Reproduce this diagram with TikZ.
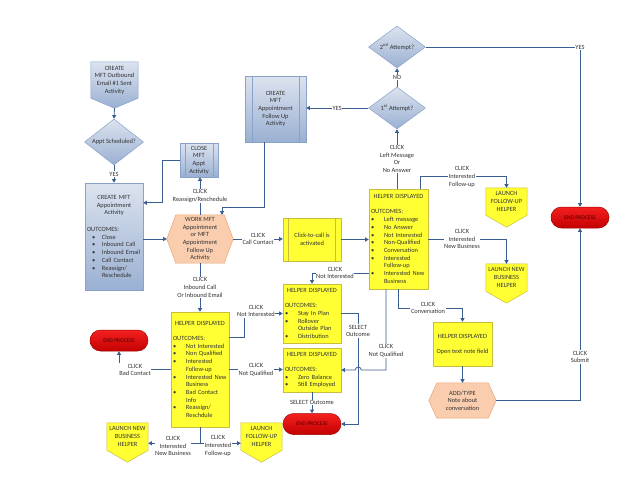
\documentclass[tikz,border=0pt]{standalone}
\usepackage{fontspec}
\setmainfont{Carlito}
\usetikzlibrary{shapes.geometric,arrows.meta,backgrounds,calc}
\setlength{\parindent}{0pt}
\definecolor{bluetop}{HTML}{DCE3EF}
\definecolor{bluebot}{HTML}{9AB0D2}
\definecolor{blueln}{HTML}{8AA2C8}
\definecolor{ylw}{HTML}{FFFF33}
\definecolor{ylwln}{HTML}{C8BE3C}
\definecolor{peach}{HTML}{F9CDAD}
\definecolor{peachln}{HTML}{E9A678}
\definecolor{redtop}{HTML}{F52020}
\definecolor{redbot}{HTML}{C30000}
\definecolor{redln}{HTML}{A00000}
\definecolor{lnblue}{HTML}{3B5E91}
\definecolor{txt}{HTML}{333333}
\newcommand\bitem[1]{\makebox[13pt][l]{\textbullet}#1}
\newcommand\bcont[1]{\hspace*{13pt}#1}
\newcommand\bitemw[1]{\makebox[15pt][l]{\hspace{5pt}\textbullet}#1}
\newcommand\bcontw[1]{\hspace*{15pt}#1}
\newcommand\ctrline[1]{\makebox[\linewidth][c]{#1}}
\begin{document}
\begin{tikzpicture}[x=1pt,y=-1pt,
  every node/.style={font=\fontsize{6.4}{7.7}\selectfont, text=txt, inner sep=0pt},
  bluefill/.style={draw=blueln, line width=0.5pt, top color=bluetop, bottom color=bluebot},
  yfill/.style={draw=ylwln, line width=0.5pt, fill=ylw},
  pfill/.style={draw=peachln, line width=0.5pt, fill=peach},
  predef/.style 2 args={path picture={\draw[line width=0.5pt,#1]
     ([xshift=#2]path picture bounding box.north west) -- ([xshift=#2]path picture bounding box.south west)
     ([xshift=-#2]path picture bounding box.north east) -- ([xshift=-#2]path picture bounding box.south east);}},
  endp/.style={draw=redln, line width=0.5pt, top color=redtop, bottom color=redbot, rounded corners=10.5pt,
     minimum width=58pt, minimum height=21pt, text=red!30!black, font=\fontsize{5.6}{7}\selectfont},
  lbl/.style={fill=white, align=center, inner sep=0.6pt},
  conn/.style={draw=lnblue, line width=0.8pt},
  arr/.style={conn, -{Triangle[length=3.6pt,width=4pt]}},
  listbox/.style={text width=#1, inner xsep=2pt, align=left}
]
\useasboundingbox (0,0) rectangle (638,493);

% ---------- nodes ----------
\node[minimum width=47pt, minimum height=36pt, align=center] (n1) at (114.5,80) {CREATE\\MFT Outbound\\Email \#1 Sent\\Activity};
\node[diamond, aspect=1.3, bluefill, minimum width=59pt, minimum height=46pt] (d1) at (114,142) {Appt Scheduled?};
\node[bluefill, minimum width=58pt, minimum height=107pt, listbox=54pt] (b1) at (114,236.5)
 {\ctrline{CREATE MFT}\\\ctrline{Appointment}\\\ctrline{Activity}\\[9pt]OUTCOMES:\\\bitemw{Close}\\\bitemw{Inbound Call}\\\bitemw{Inbound Email}\\\bitemw{Call Contact}\\\bitemw{Reassign/}\\\bcontw{Reschedule}};
\node[bluefill, predef={blueln}{5pt}, minimum width=38pt, minimum height=34pt, align=center] (c1) at (199,160) {CLOSE\\MFT\\Appt\\Activity};
\node[minimum width=66pt, minimum height=48pt, align=center] (h0) at (200,239) {WORK MFT\\Appointment\\or MFT\\Appointment\\Follow Up\\Activity};
\node[bluefill, predef={blueln}{7pt}, minimum width=61pt, minimum height=66pt, align=center] (f1) at (275.5,109) {CREATE\\MFT\\Appointment\\Follow Up\\Activity};
\node[diamond, aspect=1.3, bluefill, minimum width=57pt, minimum height=42pt] (d2) at (397,108) {1\textsuperscript{st} Attempt?};
\node[diamond, aspect=1.3, bluefill, minimum width=57pt, minimum height=42pt] (d3) at (397,47) {2\textsuperscript{nd} Attempt?};
\node[endp] (eR) at (580,217.5) {END PROCESS};
\node[yfill, minimum width=59pt, minimum height=100pt, listbox=55pt] (hT) at (398.5,239)
 {\ctrline{HELPER DISPLAYED}\\[7.3pt]OUTCOMES:\\\bitem{Left message}\\\bitem{No Answer}\\\bitem{Not Interested}\\\bitem{Non-Qualified}\\\bitem{Conversation}\\\bitem{Interested}\\\bcont{Follow-up}\\\bitem{Interested New}\\\bcont{Business}};
\node[minimum width=41pt, minimum height=27pt, align=center] (lf1) at (506.5,201.5) {LAUNCH\\FOLLOW-UP\\HELPER};
\node[minimum width=41pt, minimum height=27pt, align=center] (lnb1) at (506.5,277.5) {LAUNCH NEW\\BUSINESS\\HELPER};
\node[yfill, predef={ylwln}{5.5pt}, minimum width=58pt, minimum height=43pt, align=center] (cc) at (312,239.5) {Click-to-call is\\activated};
\node[yfill, minimum width=58pt, minimum height=59pt, listbox=54pt] (hM1) at (312,313.5)
 {\ctrline{HELPER DISPLAYED}\\[7.3pt]OUTCOMES:\\\bitem{Stay In Plan}\\\bitem{Rollover}\\\bcont{Outside Plan}\\\bitem{Distribution}};
\node[yfill, minimum width=58pt, minimum height=44pt, listbox=54pt] (hM2) at (312,370)
 {\ctrline{HELPER DISPLAYED}\\[7.3pt]OUTCOMES:\\\bitem{Zero Balance}\\\bitem{Still Employed}};
\node[endp] (eM) at (312,424) {END PROCESS};
\node[yfill, minimum width=58pt, minimum height=115pt, listbox=54pt] (hL) at (200,369.5)
 {\ctrline{HELPER DISPLAYED}\\[7.3pt]OUTCOMES:\\\bitem{Not Interested}\\\bitem{Non Qualified}\\\bitem{Interested}\\\bcont{Follow-up}\\\bitem{Interested New}\\\bcont{Business}\\\bitem{Bad Contact}\\\bcont{Info}\\\bitem{Reassign/}\\\bcont{Reschdule}};
\node[endp] (eL) at (119,340.5) {END PROCESS};
\node[minimum width=41pt, minimum height=27pt, align=center] (lnb2) at (127.5,436.5) {LAUNCH NEW\\BUSINESS\\HELPER};
\node[minimum width=41pt, minimum height=27pt, align=center] (lf2) at (261.5,436.5) {LAUNCH\\FOLLOW-UP\\HELPER};
\node[yfill, minimum width=59pt, minimum height=44pt, align=center] (hO) at (462.5,344) {HELPER DISPLAYED\\[7.3pt]Open text note field};
\node[minimum width=67pt, minimum height=35pt, align=center] (hx) at (462.5,400.5) {ADD/TYPE\\Note about\\conversation};

% ---------- background shapes ----------
\begin{scope}[on background layer]
\fill[white] (0,0) rectangle (638,493);
\path[bluefill] (n1.north west) -- (n1.north east) -- (n1.south east) -- ([yshift=-10pt]n1.south) -- (n1.south west) -- cycle;
\foreach \p in {lf1,lnb1,lnb2,lf2}{
  \path[yfill] (\p.north west) -- (\p.north east) -- (\p.south east) -- ([yshift=-12pt]\p.south) -- (\p.south west) -- cycle;
}
\path[pfill] (h0.west) -- ([xshift=9pt]h0.north west) -- ([xshift=-9pt]h0.north east) -- (h0.east) -- ([xshift=-9pt]h0.south east) -- ([xshift=9pt]h0.south west) -- cycle;
\path[pfill] (hx.west) -- ([xshift=8pt]hx.north west) -- ([xshift=-8pt]hx.north east) -- (hx.east) -- ([xshift=-8pt]hx.south east) -- ([xshift=8pt]hx.south west) -- cycle;
\end{scope}

% ---------- connectors ----------
\draw[arr] ([yshift=-10pt]n1.south) -- (d1.north);
\draw[arr] (d1.south) -- node[lbl]{YES} (b1.north);
\draw[arr] (b1.east |- h0.west) -- (h0.west);
\draw[arr] (h0.north) -- node[lbl]{CLICK\\Reassign/Reschedule} (h0.north |- c1.south);
\draw[arr] (c1.west) -- ++(-17,0) |- ([yshift=-20pt]b1.north east);
\draw[arr] ([xshift=-11pt]f1.south) -- ++(0,65) -| ([xshift=22pt]h0.north);
\draw[arr] (d2.west) -- node[lbl]{YES} (d2.west -| f1.east);
\draw[arr] (d2.north) -- node[lbl]{NO} (d3.south);
\draw[arr] (d3.east) -| node[lbl, pos=0.5]{YES} (eR.north);
\draw[arr] (d2.south |- hT.north) -- node[lbl]{CLICK\\Left Message\\Or\\No Answer} (d2.south);
\draw[arr] ([xshift=21.5pt]hT.north) -- ++(0,-12) -| (lf1.north);
\node[lbl] (lb1) at (462,177) {CLICK\\Interested\\Follow-up};
\draw[arr] (hT.east) -| (lnb1.north);
\node[lbl] (lb2) at (462,239) {CLICK\\Interested\\New Business};
\draw[arr] (cc.east) -- (cc.east -| hT.west);
\draw[arr] (h0.east) -- node[lbl]{CLICK\\Call Contact} (h0.east -| cc.west);
\draw[arr] ([yshift=-34pt]hT.west) -| (hM1.north);
\node[lbl] (lb3) at (335,273) {CLICK\\Not Interested};
\coordinate (selx) at ([xshift=17pt]hM1.east);
\coordinate (hop) at (selx |- hM2.east);
\draw[arr] (hM1.east) -- (selx) |- (eM.east);
\node[lbl] (lb5) at (358,331) {SELECT\\Outcome};
\draw[arr] ([xshift=-12.5pt]hT.south) |- ([xshift=3pt]hop) arc[start angle=0,end angle=-180,radius=3] -- (hM2.east);
\node[lbl] (lb4) at (386,351) {CLICK\\Not Qualified};
\draw[arr] (hM2.south) -- node[lbl]{SELECT Outcome} (eM.north);
\draw[arr] (h0.south) -- node[lbl]{CLICK\\Inbound Call\\Or Inbound Email} (hL.north);
\draw[arr] ([yshift=32.5pt]hL.east) -- ++(15,0) |- (hM1.west);
\node[lbl] (lb6) at (256,311) {CLICK\\Not Interested};
\draw[arr] (hL.east) -- node[lbl]{CLICK\\Not Qualified} (hL.east -| hM2.west);
\draw[arr] (hL.west) -| (eL.south);
\node[lbl] (lb7) at (135,370) {CLICK\\Bad Contact};
\draw[conn] (hL.south) -- ++(0,16) coordinate (split);
\draw[arr] (split) -- (split -| lnb2.east);
\draw[arr] (split) -- (split -| lf2.west);
\node[lbl] (lb8) at (173,446) {CLICK\\Interested\\New Business};
\node[lbl] (lb9) at (218,446) {CLICK\\Interested\\Follow-up};
\draw[arr] (hT.south) -- ++(0,19) -| (hO.north);
\node[lbl] (lb10) at (428,308) {CLICK\\Conversation};
\draw[arr] (hO.south) -- (hx.north);
\draw[arr] (hx.east) -| (eR.south);
\node[lbl] (lb11) at (580,357) {CLICK\\Submit};
\end{tikzpicture}
\end{document}
